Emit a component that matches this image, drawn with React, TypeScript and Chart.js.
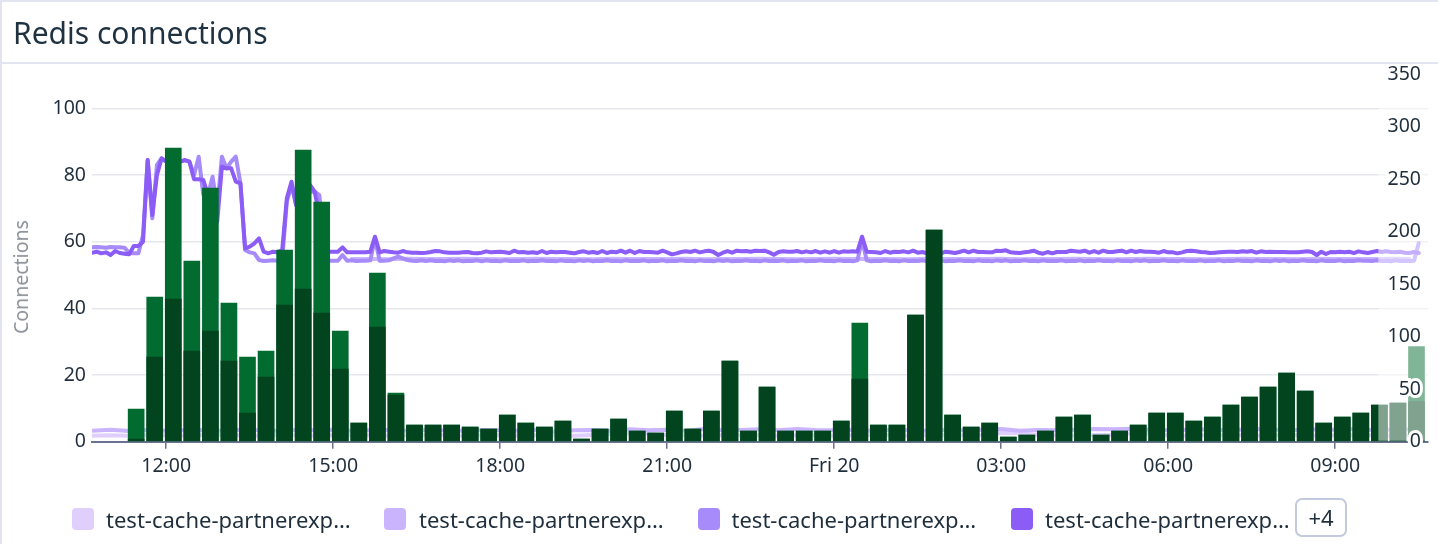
import React, { useEffect, useRef } from "react";
import { Chart, registerables } from "chart.js";

Chart.register(...registerables);

const chartTitle = "Redis connections";
const yAxisTitle = "Connections";
const legendLabels = ["test-cache-partnerexp…", "test-cache-partnerexp…", "test-cache-partnerexp…", "test-cache-partnerexp…"];
const legendExtra = "+4";
const leftTicks = [0, 20, 40, 60, 80, 100];
const xTickMinutes = [720, 900, 1080, 1260, 1440, 1620, 1800, 1980];
const xTickLabels = ["12:00", "15:00", "18:00", "21:00", "Fri 20", "03:00", "06:00", "09:00"];

// 20-minute bars, first at 11:20
const barTotal = [
  9.8, 43.4, 88.1, 54.2, 76.1, 41.6, 25.4, 27.2, 57.5, 87.5, 71.9, 33.2, 5.6, 50.6, 14.6, 5, 5, 5, 4.4, 3.8,
  8, 5.6, 4.4, 6.2, 0.8, 3.8, 6.8, 3.2, 2.6, 9.2, 3.8, 9.2, 24.2, 3.2, 16.4, 3.2, 3.2, 3.2, 6.2, 35.6,
  5, 5, 38, 63.5, 8, 4.4, 5.6, 1.4, 2, 3.2, 7.4, 8, 2, 3.2, 5, 8.6, 8.6, 6.2, 7.4, 11,
  13.4, 16.4, 20.6, 15.2, 5.6, 7.4, 8.6, 11, 11.6, 28.5,
];
const barPartial = [
  0.8, 25.4, 42.8, 27.2, 33.2, 24.2, 8.6, 19.4, 41, 45.8, 38.6, 21.8, 5.6, 34.4, 14, 5, 5, 5, 4.4, 3.8,
  8, 5.6, 4.4, 6.2, 0.8, 3.8, 6.8, 3.2, 2.6, 9.2, 3.8, 9.2, 24.2, 3.2, 16.4, 3.2, 3.2, 3.2, 6.2, 18.8,
  5, 5, 38, 63.5, 8, 4.4, 5.6, 1.4, 2, 3.2, 7.4, 8, 2, 3.2, 5, 8.6, 8.6, 6.2, 7.4, 11,
  13.4, 16.4, 20.6, 15.2, 5.6, 7.4, 8.6, 11, 11.6, 12,
];

// 5-minute samples, first at 10:40
const lineDark = [
  56.7, 57, 56.5, 56.8, 56, 57.2, 56.6, 56.4, 56.2, 58.7,
  58.7, 60, 84.5, 68, 80, 85, 84, 84, 84, 84,
  84.5, 84, 78.7, 78.7, 78.5, 74, 74, 66, 82.5, 82,
  82, 78, 77.5, 58, 58.5, 59.5, 61, 57, 56.5, 57,
  56.8, 57.5, 73, 78, 71, 68, 74, 77, 75, 68,
  60, 57, 57, 57, 58.3, 56.8, 56.8, 56.8, 56.8, 56.8,
  57, 61.5, 56.8, 57.2, 57, 56.8, 56.7, 57.2, 56.8, 56.7,
  56.7, 56.6, 56.7, 56.9, 57.2, 57.1, 56.8, 56.7, 56.7, 56.7,
  56.8, 56.9, 56.6, 56.5, 56.7, 57.1, 56.8, 56.9, 57.0, 56.8,
  56.6, 57.3, 56.8, 56.9, 56.7, 56.8, 56.6, 57.2, 56.6, 57.0,
  56.8, 56.9, 56.9, 56.7, 56.5, 56.9, 57.1, 56.7, 56.9, 56.6,
  57.2, 56.6, 57.0, 56.8, 57.3, 56.7, 57.3, 56.6, 57.2, 56.9,
  56.9, 56.8, 56.7, 57.3, 56.8, 56.2, 56.5, 56.9, 57.1, 56.9,
  57.3, 56.8, 57.1, 57.3, 56.9, 56.0, 56.7, 57.2, 56.7, 57.3,
  57.1, 57.2, 57.0, 57.3, 57.2, 57.3, 56.8, 56.1, 56.9, 57.1,
  57.0, 57.0, 57.2, 56.8, 57.1, 56.8, 57.2, 56.7, 57.1, 56.7,
  57.2, 56.7, 57.1, 57.0, 57.1, 57.0, 61.5, 57.0, 56.9, 56.8,
  56.6, 57.2, 56.7, 57.0, 56.9, 57.1, 56.8, 57.3, 56.7, 56.9,
  56.5, 56.9, 57.3, 56.5, 57.0, 56.8, 56.6, 56.9, 57.3, 56.8,
  57.3, 56.9, 56.9, 56.8, 56.8, 57.3, 57.2, 57.4, 56.8, 56.7,
  56.6, 56.8, 57.0, 57.3, 56.7, 56.4, 56.9, 56.5, 56.9, 56.9,
  56.9, 57.3, 57.1, 57.0, 57.3, 56.7, 57.2, 56.7, 57.3, 56.9,
  56.9, 57.1, 57.3, 56.8, 57.3, 56.9, 57.2, 57.0, 57.0, 56.9,
  56.7, 57.2, 56.8, 56.8, 56.5, 56.8, 57.2, 57.3, 57.1, 56.9,
  56.8, 56.6, 56.7, 56.8, 56.9, 57.0, 57.0, 56.9, 57.1, 57.0,
  57.2, 56.7, 57.1, 56.9, 57.0, 56.9, 56.9, 56.9, 56.8, 56.8,
  56.8, 57.0, 57.1, 56.9, 56.0, 57.0, 56.3, 56.9, 56.8, 57.0,
  56.8, 57.0, 56.6, 57.1, 56.8, 56.6, 56.9, 57.2, 56.9, 57.1,
  56.9, 56.8, 57.0, 56.7, 56.6, 56.9, 56.6,
];
const lineLight = [
  58.3, 58.4, 58.3, 58.2, 58.4, 58.3, 58.3, 58.2, 56.6, 56.5,
  56.5, 62, 84.5, 67, 83, 85, 84, 84, 84, 84,
  84.5, 84, 80, 85.5, 74, 74, 79.5, 70, 85.5, 82,
  84, 85.5, 77.5, 57.5, 56.8, 56.5, 54.5, 54.2, 54.3, 54.4,
  54.3, 54.5, 72, 77, 71, 68, 72, 75, 75, 74,
  60, 54.3, 54.3, 54.3, 56, 54.3, 54.4, 54.2, 54.3, 54.3,
  54.4, 61, 54.3, 54.3, 54.4, 55, 55.5, 55, 54.5, 54.3,
  54.2, 54.4, 54.2, 54.4, 54.2, 54.3, 54.1, 54.4, 54.2, 54.4,
  54.1, 54.3, 54.2, 54.4, 54.1, 54.4, 54.2, 54.3, 54.1, 54.4,
  54.2, 54.3, 54.2, 54.4, 54.1, 54.3, 54.2, 54.4, 54.2, 54.3,
  54.1, 54.4, 54.2, 54.3, 54.1, 54.4, 54.2, 54.4, 54.1, 54.3,
  54.2, 54.4, 54.2, 54.3, 54.1, 54.4, 54.2, 54.3, 54.2, 54.4,
  54.1, 54.3, 54.2, 54.4, 54.1, 54.3, 54.2, 54.4, 54.2, 54.3,
  54.1, 54.4, 54.2, 54.3, 54.1, 54.4, 54.2, 54.4, 54.1, 54.3,
  54.2, 54.4, 54.2, 54.3, 54.1, 54.4, 54.2, 54.3, 54.2, 54.4,
  54.1, 54.3, 54.2, 54.4, 54.1, 54.3, 54.2, 54.4, 54.2, 54.3,
  54.1, 54.4, 54.2, 54.3, 54.1, 54.4, 60.5, 54.4, 54.1, 54.3,
  54.2, 54.4, 54.2, 54.3, 54.1, 54.4, 54.2, 54.3, 54.2, 54.4,
  54.1, 54.3, 54.2, 54.4, 54.1, 54.3, 54.2, 54.4, 54.2, 54.3,
  54.1, 54.4, 54.2, 54.3, 54.1, 54.4, 54.2, 54.4, 54.1, 54.3,
  54.2, 54.4, 54.2, 54.3, 54.1, 54.4, 54.2, 54.3, 54.2, 54.4,
  54.1, 54.3, 54.2, 54.4, 54.1, 54.3, 54.2, 54.4, 54.2, 54.3,
  54.1, 54.4, 54.2, 54.3, 54.1, 54.4, 54.2, 54.4, 54.1, 54.3,
  54.2, 54.4, 54.2, 54.3, 54.1, 54.4, 54.2, 54.3, 54.2, 54.4,
  54.1, 54.3, 54.2, 54.4, 54.1, 54.3, 54.2, 54.4, 54.2, 54.3,
  54.1, 54.4, 54.2, 54.3, 54.1, 54.4, 54.2, 54.4, 54.1, 54.3,
  54.2, 54.4, 54.2, 54.3, 54.1, 54.4, 54.2, 54.3, 54.2, 54.4,
  54.1, 54.3, 54.2, 54.4, 54.3, 54.3, 54.2, 54.4, 54.2, 54.3,
  54.1, 54.4, 54.2, 54.3, 54.2, 54.3, 59.6,
];

// 20-minute samples, first at 15:20
const lineMid = [
  54.8, 54.8, 54.7, 54.9, 54.8, 54.8, 54.9, 54.8, 54.7, 54.8,
  54.9, 54.8, 54.8, 54.7, 54.9, 54.8, 54.8, 54.8, 54.9, 54.7,
  54.8, 54.8, 54.9, 54.8, 54.7, 54.8, 54.9, 54.8, 54.8, 54.8,
  54.7, 54.9, 54.8, 54.8, 54.8, 54.9, 54.7, 54.8, 54.8, 54.9,
  54.8, 54.7, 54.8, 54.9, 54.8, 54.8, 54.7, 54.8, 54.9, 54.8,
  54.8, 54.7, 54.9, 54.8, 54.8, 54.8, 54.9, 54.8,
];
// 20-minute samples, first at 10:40
const lineLowA = [
  1.8, 1.9, 1.8, 2.0, 1.9, 1.8, 2.0, 2.1, 1.9, 1.8, 2.0, 1.9, 1.8, 2.0, 1.9, 2.0, 1.8, 1.9,
  2.1, 2.0, 1.8, 1.9, 2.0, 1.8, 2.0, 1.9, 1.8, 2.0, 2.3, 2.5, 2.4, 2.0, 1.9, 1.8, 2.0, 1.9,
  2.0, 1.8, 1.9, 2.0, 1.8, 1.9, 2.1, 2.0, 1.8, 1.9, 2.0, 1.9, 2.0, 2.6, 2.5, 2.0, 1.9, 1.8,
  2.0, 2.1, 2.5, 2.4, 1.9, 1.8, 2.0, 1.9, 2.0, 1.8, 1.9, 2.0, 1.8, 1.9, 2.0, 1.9, 1.8, 2.0,
];
const lineLowB = [
  3.3, 3.6, 3.2, 3.5, 3.3, 3.4, 3.5, 3.3, 3.6, 3.4, 3.3, 3.5, 3.4, 3.6, 3.3, 3.4, 3.5, 3.3,
  3.6, 3.4, 3.3, 3.5, 3.4, 3.3, 3.6, 3.0, 3.4, 3.5, 3.3, 3.7, 3.4, 3.6, 3.3, 3.8, 3.4, 3.5,
  3.7, 3.4, 3.8, 3.5, 3.4, 3.6, 3.3, 3.5, 3.4, 3.3, 3.5, 3.4, 3.6, 3.8, 3.3, 3.5, 3.4, 3.6,
  3.8, 3.7, 3.9, 3.5, 3.4, 3.6, 3.7, 3.5, 3.6, 3.8, 3.6, 3.5, 3.7, 3.6, 3.8, 3.5, 3.6, 3.7,
];

const seriesColors = ["#e0cffd", "#c9b4fd", "#a78bfa", "#8b5cf6"];
const barColors = { total: "#016b30", partial: "#02441e" };
const textColor = "#1f2e3c";
const FONT = '"Noto Sans", sans-serif';

const points = (values: number[], first: number, step: number, shift = 0) =>
  values.map((y, i) => ({ x: first + i * step + shift, y }));

const incompletePlugin = {
  id: "incomplete",
  afterDatasetsDraw(chart: any) {
    const { ctx, chartArea, scales } = chart;
    const x0 = scales.x.getPixelForValue(2026.5);
    ctx.save();
    ctx.fillStyle = "rgba(255,255,255,0.5)";
    ctx.fillRect(x0, chartArea.top, chartArea.right - x0, chartArea.bottom - chartArea.top - 1);
    ctx.restore();
  },
};

export default function App() {
  const ref = useRef<HTMLCanvasElement>(null);
  useEffect(() => {
    const lineStyle = (color: string, order: number) => ({
      type: "line" as const,
      borderColor: color,
      backgroundColor: color,
      borderWidth: 4,
      borderJoinStyle: "round" as const,
      borderCapStyle: "round" as const,
      pointRadius: 0,
      tension: 0,
      fill: false,
      order,
    });
    const chart = new Chart(ref.current as HTMLCanvasElement, {
      type: "bar",
      data: {
        datasets: [
          { ...lineStyle(seriesColors[0], 7), label: "test-cache-partnerexp 1", data: points(lineLowA, 640, 20) },
          { ...lineStyle(seriesColors[1], 6), label: "test-cache-partnerexp 2", data: points(lineLowB, 640, 20) },
          { ...lineStyle(seriesColors[1], 5), label: "test-cache-partnerexp 2b", data: points(lineMid, 920, 20) },
          { ...lineStyle(seriesColors[2], 4), label: "test-cache-partnerexp 3", data: points(lineLight, 640, 5) },
          { ...lineStyle(seriesColors[3], 3), label: "test-cache-partnerexp 4", data: points(lineDark, 640, 5) },
          {
            type: "bar", label: "total", data: points(barTotal, 680, 20, 7.6),
            backgroundColor: barColors.total, barThickness: 16, grouped: false, order: 2,
          },
          {
            type: "bar", label: "partial", data: points(barPartial, 680, 20, 7.6),
            backgroundColor: barColors.partial, barThickness: 16, grouped: false, order: 1,
          },
        ] as any,
      },
      options: {
        responsive: false,
        animation: false,
        devicePixelRatio: 1,
        layout: { padding: { top: 74, left: 0, right: 0, bottom: 0 } },
        plugins: { legend: { display: false }, title: { display: false }, tooltip: { enabled: false } },
        scales: {
          x: {
            type: "linear",
            min: 640,
            max: 2080,
            offset: false,
            afterBuildTicks: (s: any) => { s.ticks = xTickMinutes.map((value) => ({ value })); },
            afterFit: (s: any) => { s.height = 102.3; },
            grid: { offset: false, drawOnChartArea: false, drawTicks: true, tickLength: 7, color: "#6b7190", lineWidth: 1.5 },
            border: { color: "#6b7190", width: 2 },
            ticks: {
              autoSkip: false,
              maxRotation: 0,
              padding: 6,
              color: textColor,
              font: { family: FONT, size: 19.5 },
              callback: (v: any) => xTickLabels[xTickMinutes.indexOf(Number(v))] ?? "",
            },
          },
          y: {
            type: "linear",
            position: "left",
            min: 0,
            max: 110.3,
            afterBuildTicks: (s: any) => { s.ticks = leftTicks.map((value) => ({ value })); },
            afterFit: (s: any) => { s.width = 92; },
            grid: { drawTicks: false, color: "#e6e7ec", lineWidth: 1.5 },
            border: { display: false },
            ticks: { padding: 6, color: textColor, font: { family: FONT, size: 19.5 } },
          },
          y2: {
            type: "linear",
            position: "right",
            min: 0,
            max: 350,
            afterFit: (s: any) => { s.width = 10; },
            grid: { display: false, drawTicks: false },
            border: { display: false },
            ticks: {
              z: 2,
              mirror: true,
              stepSize: 50,
              padding: -7,
              color: textColor,
              font: { family: FONT, size: 19.5 },
              textStrokeColor: "#ffffff",
              textStrokeWidth: 6,
            },
          },
        },
      } as any,
      plugins: [incompletePlugin],
    });
    return () => chart.destroy();
  }, []);

  const legendX = [
    { swatch: 72, text: 106 },
    { swatch: 384, text: 419 },
    { swatch: 698, text: 731.5 },
    { swatch: 1010.5, text: 1045 },
  ];

  return (
    <div style={{ position: "relative", width: 1438, height: 544, background: "#fff", overflow: "hidden", fontFamily: FONT }}>
      <style>{`html,body{margin:0;padding:0;background:#fff;overflow:hidden}`}</style>
      <canvas ref={ref} width={1438} height={544} style={{ position: "absolute", left: 0, top: 0, width: 1438, height: 544 }} />
      <div style={{ position: "absolute", left: 0, top: 0, width: 1438, height: 2, background: "#e2e5f1" }} />
      <div style={{ position: "absolute", left: 0, top: 0, width: 2, height: 544, background: "#e2e5f1" }} />
      <div style={{ position: "absolute", left: 0, top: 62, width: 1438, height: 2, background: "#e2e5f1" }} />
      <div style={{ position: "absolute", left: 13, top: 13, fontSize: 30, lineHeight: "40px", color: "#1f3241", whiteSpace: "nowrap" }}>{chartTitle}</div>
      <div style={{ position: "absolute", left: 21, top: 277, fontSize: 19.5, lineHeight: "20px", color: "#8c9299", whiteSpace: "nowrap", transform: "translate(-50%,-50%) rotate(-90deg)" }}>{yAxisTitle}</div>
      {legendLabels.map((label, i) => (
        <React.Fragment key={i}>
          <div style={{ position: "absolute", left: legendX[i].swatch, top: 508, width: 22, height: 22, borderRadius: 4, background: seriesColors[i] }} />
          <div style={{ position: "absolute", left: legendX[i].text, top: 505, fontSize: 22, lineHeight: "28px", color: textColor, whiteSpace: "nowrap" }}>{label}</div>
        </React.Fragment>
      ))}
      <div style={{ position: "absolute", left: 1295, top: 498, width: 48, height: 35, border: "2px solid #c3c9de", borderRadius: 7, fontSize: 22, lineHeight: "35px", textAlign: "center", color: textColor }}>{legendExtra}</div>
    </div>
  );
}
